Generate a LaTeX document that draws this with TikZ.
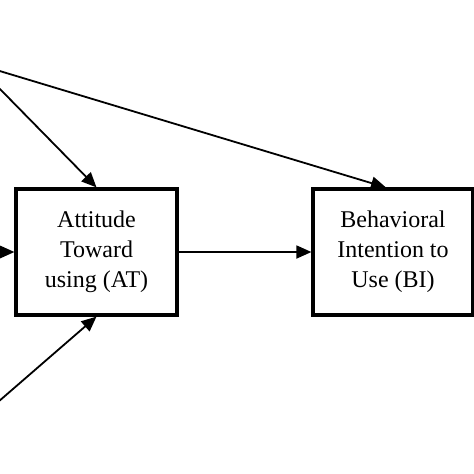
\documentclass[tikz,border=0pt]{standalone}
\usepackage{fontspec}
\setmainfont{Liberation Serif}
\usetikzlibrary{arrows.meta}
\begin{document}
\begin{tikzpicture}[x=1pt,y=-1pt,
  box/.style={draw, line width=3.2pt, rectangle, align=center, inner sep=0pt,
    font=\fontsize{24}{30}\selectfont},
  link/.style={line width=1.8pt, -{Triangle[length=15pt,width=13pt]}}]
\useasboundingbox (0,0) rectangle (474,474);
\node[box, minimum width=161pt, minimum height=126pt] (AT) at (96.5,252) {Attitude\\Toward\\using (AT)};
\node[box, minimum width=160pt, minimum height=126pt] (BI) at (393,252) {Behavioral\\Intention to\\Use (BI)};
\coordinate (s1) at (-2,70.5);
\coordinate (s2) at (-2,87);
\coordinate (s3) at (-2,252);
\coordinate (s4) at (-2,402);
\coordinate (bitop) at (386,187.5);
\draw[link] (s1) -- (bitop);
\draw[link] (s2) -- (AT.north);
\draw[link] (s3) -- (AT.west);
\draw[link] (s4) -- (AT.south);
\draw[link] (AT.east) -- (BI.west);
\end{tikzpicture}
\end{document}
